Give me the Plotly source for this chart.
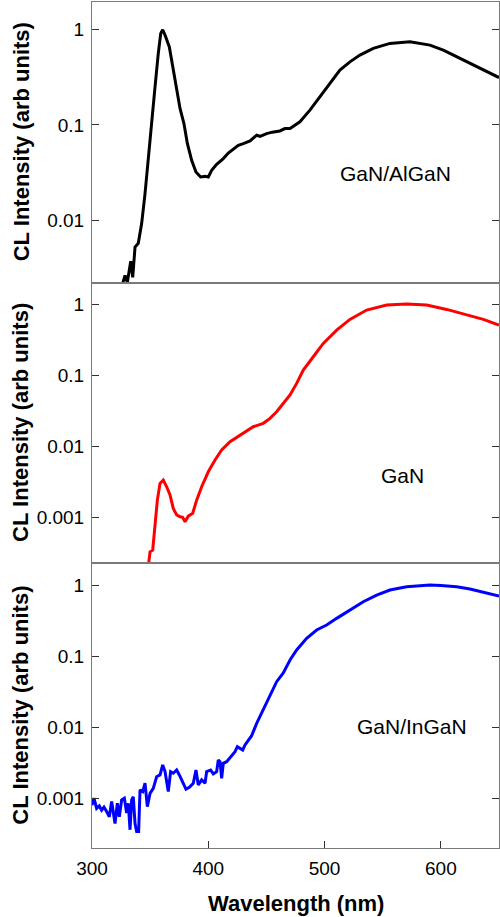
import plotly.graph_objects as go
from plotly.subplots import make_subplots

# GaN/AlGaN (top, black)
wl_algan = [325.0, 326.4, 328.4, 330.4, 333.3, 335.0, 337.0, 339.8, 342.7, 345.6, 348.4, 351.3,
            354.2, 357.0, 359.1, 360.8, 362.8, 366.5, 369.9, 372.8, 375.7, 379.1, 382.0, 385.7,
            389.4, 393.4, 397.2, 400.0, 402.9, 407.2, 412.9, 417.2, 421.5, 425.8, 430.1, 435.9,
            441.6, 444.5, 450.2, 455.0, 461.6, 465.9, 470.3, 478.8, 487.4, 496.0, 504.6, 513.2,
            521.8, 530.4, 541.9, 556.2, 573.4, 590.6, 602.1, 613.6, 625.0, 636.5, 650.0]
cl_algan = [0.0019, 0.00222, 0.00262, 0.00222, 0.0037, 0.0025, 0.0052, 0.0057, 0.0092, 0.019,
            0.046, 0.112, 0.251, 0.564, 0.916, 1.0, 0.88, 0.66, 0.377, 0.232, 0.149, 0.103,
            0.064, 0.0425, 0.032, 0.0284, 0.0288, 0.0284, 0.0334, 0.0386, 0.0443, 0.0507, 0.055,
            0.061, 0.0637, 0.068, 0.078, 0.076, 0.081, 0.084, 0.0865, 0.0917, 0.092, 0.108,
            0.143, 0.197, 0.273, 0.377, 0.46, 0.542, 0.637, 0.719, 0.748, 0.69, 0.61, 0.52,
            0.443, 0.377, 0.315]

# GaN (middle, red)
wl_gan = [348.4, 349.9, 352.2, 354.2, 356.2, 358.5, 361.3, 364.2, 367.1, 369.9, 372.8, 375.7,
          378.0, 380.0, 382.8, 386.6, 390.0, 394.3, 400.0, 405.8, 411.5, 418.7, 427.3, 438.7,
          447.3, 453.1, 458.8, 464.5, 470.3, 476.0, 481.7, 490.3, 498.9, 510.4, 521.8, 536.2,
          553.4, 570.6, 587.8, 605.0, 622.2, 636.5, 650.0]
cl_gan = [0.0002, 0.000324, 0.000343, 0.00081, 0.00173, 0.00298, 0.00332, 0.00267, 0.00204,
          0.00132, 0.00107, 0.00101, 0.00099, 0.00086, 0.00103, 0.00113, 0.00173, 0.00267,
          0.00434, 0.00635, 0.0088, 0.0115, 0.0143, 0.0187, 0.0209, 0.0245, 0.0304, 0.0399,
          0.0523, 0.0763, 0.1175, 0.181, 0.279, 0.43, 0.608, 0.823, 0.968, 1.0, 0.968, 0.84,
          0.70, 0.608, 0.506]

# GaN/InGaN (bottom, blue)
wl_ingan = [300.0, 301.7, 304.0, 306.3, 308.3, 310.3, 312.6, 314.9, 316.9, 319.8, 321.8, 323.5,
            325.5, 327.8, 329.8, 331.2, 332.7, 334.1, 335.5, 337.0, 338.4, 340.1, 341.3, 343.6,
            345.6, 347.6, 349.9, 352.7, 355.6, 358.5, 360.8, 362.8, 365.6, 367.6, 369.9, 372.8,
            375.1, 378.0, 380.8, 383.7, 385.7, 387.1, 389.4, 391.4, 394.3, 397.2, 398.6, 402.0,
            404.3, 407.2, 408.6, 410.1, 411.5, 412.9, 415.8, 420.1, 423.0, 425.0, 427.3, 429.6,
            431.6, 434.4, 437.3, 441.6, 445.9, 450.2, 454.5, 458.8, 464.5, 470.3, 476.0, 484.6,
            493.2, 501.8, 510.4, 521.8, 533.3, 544.8, 556.2, 570.6, 590.6, 600.0, 613.6, 625.0,
            636.5, 650.0]
cl_ingan = [0.0008, 0.001, 0.00072, 0.00078, 0.00068, 0.00075, 0.00065, 0.00055, 0.0009,
            0.00044, 0.00085, 0.00055, 0.00095, 0.001, 0.00062, 0.00085, 0.00036, 0.00095,
            0.00105, 0.00044, 0.00034, 0.00034, 0.00131, 0.00124, 0.00163, 0.00076, 0.00117,
            0.00138, 0.00201, 0.00213, 0.00294, 0.00237, 0.00124, 0.00237, 0.00225, 0.0025,
            0.00213, 0.00163, 0.00134, 0.00143, 0.00154, 0.00163, 0.0025, 0.00154, 0.00181,
            0.00163, 0.00237, 0.0025, 0.0022, 0.00237, 0.00346, 0.00327, 0.00191, 0.0031,
            0.00327, 0.00406, 0.00453, 0.00532, 0.00505, 0.00478, 0.00562, 0.00661, 0.0076,
            0.0113, 0.0157, 0.0217, 0.03, 0.0437, 0.058, 0.0882, 0.122, 0.178, 0.233, 0.274,
            0.34, 0.44, 0.583, 0.723, 0.851, 0.948, 1.0, 0.99, 0.95, 0.88, 0.80, 0.70]

y_ticks = [1, 0.1, 0.01, 0.001]
y_ticktext = ["1", "0.1", "0.01", "0.001"]
x_ticks = [300, 400, 500, 600]

fnt = "Liberation Sans, Arial, sans-serif"
frame = "#7a7a7a"

fig = make_subplots(rows=3, cols=1, shared_xaxes=True, vertical_spacing=0)
fig.add_trace(go.Scatter(x=wl_algan, y=cl_algan, mode="lines",
                         line=dict(color="black", width=3)), row=1, col=1)
fig.add_trace(go.Scatter(x=wl_gan, y=cl_gan, mode="lines",
                         line=dict(color="#ff0000", width=3)), row=2, col=1)
fig.add_trace(go.Scatter(x=wl_ingan, y=cl_ingan, mode="lines",
                         line=dict(color="#0000ff", width=3)), row=3, col=1)

domains = [[0.6684, 1.0], [0.3365, 0.6684], [0.0, 0.3365]]
yranges = [[-2.656, 0.292], [-3.652, 0.303], [-3.70, 0.306]]

for i in range(3):
    fig.update_yaxes(type="log", range=yranges[i], domain=domains[i],
                     tickvals=y_ticks, ticktext=y_ticktext,
                     ticks="inside", ticklen=7, tickcolor="#333", tickwidth=1,
                     showline=True, linecolor=frame, linewidth=1, mirror="ticks",
                     showgrid=False, zeroline=False, ticklabelstandoff=3,
                     tickfont=dict(family=fnt, size=19, color="black"),
                     row=i + 1, col=1)
    fig.update_xaxes(range=[300, 650], showline=True, linecolor=frame, linewidth=1,
                     mirror=True, showgrid=False, zeroline=False, row=i + 1, col=1)

fig.update_xaxes(showticklabels=False, ticks="", row=1, col=1)
fig.update_xaxes(showticklabels=False, ticks="", row=2, col=1)
fig.update_xaxes(tickvals=x_ticks, ticks="inside", ticklen=7, tickcolor="#333",
                 showticklabels=True, ticklabelstandoff=3,
                 tickfont=dict(family=fnt, size=19, color="black"), row=3, col=1)

# sample labels
labels = [("GaN/AlGaN", 561.4, -1.508, "x", "y"),
          ("GaN", 567.2, -2.408, "x2", "y2"),
          ("GaN/InGaN", 575.1, -1.993, "x3", "y3")]
for txt, lx, ly, xr, yr in labels:
    fig.add_annotation(text=txt, x=lx, y=ly, xref=xr, yref=yr, showarrow=False,
                       font=dict(family=fnt, size=21, color="black"))

# y titles for each panel
for d in domains:
    fig.add_annotation(text="<b>CL Intensity (arb units)</b>", textangle=-90,
                       x=0, y=(d[0] + d[1]) / 2, xref="paper", yref="paper",
                       xanchor="center", yanchor="middle", xshift=-71, showarrow=False,
                       font=dict(family=fnt, size=22, color="black"))

fig.add_annotation(text="<b>Wavelength (nm)</b>", x=0.5, y=0, xref="paper", yref="paper",
                   xanchor="center", yanchor="middle", yshift=-55, showarrow=False,
                   font=dict(family=fnt, size=22, color="black"))

fig.update_layout(width=500, height=917, showlegend=False,
                  margin=dict(l=92, r=1, t=2, b=69),
                  plot_bgcolor="white", paper_bgcolor="white")

# page body has a default 8px margin; drop it so the figure fills the window
fig.write_html("out.html", config={"displayModeBar": False},
               post_script="document.body.style.margin='0';")
